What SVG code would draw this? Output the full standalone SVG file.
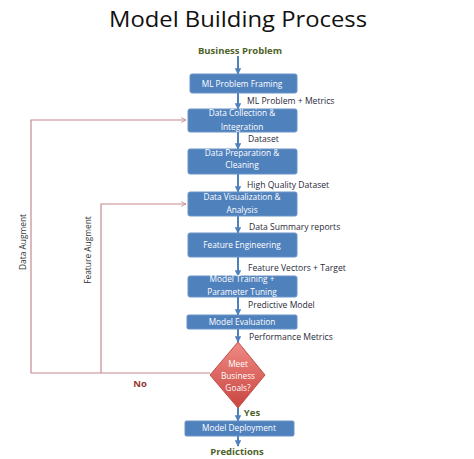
<svg xmlns="http://www.w3.org/2000/svg" width="474" height="459" viewBox="0 0 474 459">
<style>
.box{fill:#4f81bd;stroke:#6b93c6;stroke-width:1}
.bt{font-family:"Open Sans","Liberation Sans",sans-serif;font-size:8.3px;fill:#ffffff;text-anchor:middle}
.lbl{font-family:"Open Sans","Liberation Sans",sans-serif;font-size:8.6px;fill:#2a2a3a}
.grn{font-family:"Open Sans","Liberation Sans",sans-serif;font-size:9.5px;font-weight:bold;fill:#4f6228;text-anchor:middle}
.flow{stroke:#4f81bd;stroke-width:2;fill:none;marker-end:url(#ab)}
.loop{stroke:#c58a92;stroke-width:1.2;fill:none}
.side{font-family:"Open Sans","Liberation Sans",sans-serif;font-size:8.4px;fill:#333333;text-anchor:middle}
</style>
<defs>
<marker id="ab" viewBox="0 0 10 10" refX="9" refY="5" markerWidth="3.2" markerHeight="3.2" orient="auto"><path d="M0,0 L10,5 L0,10 z" fill="#4f81bd"/></marker>
<marker id="ap" viewBox="0 0 10 10" refX="9" refY="5" markerWidth="6" markerHeight="6" orient="auto" markerUnits="userSpaceOnUse"><path d="M1,1 L9,5 L1,9" fill="none" stroke="#c58a92" stroke-width="1.4"/></marker>
<linearGradient id="dg" x1="0" y1="0" x2="0" y2="1"><stop offset="0" stop-color="#f08a84"/><stop offset="1" stop-color="#c9453f"/></linearGradient>
</defs>
<rect width="474" height="459" fill="#ffffff"/>
<text x="238" y="27" font-family="Open Sans,Liberation Sans,sans-serif" font-size="22" fill="#111" text-anchor="middle" textLength="258" lengthAdjust="spacingAndGlyphs">Model Building Process</text>

<g id="connectors">
<line class="flow" x1="238" y1="56" x2="238" y2="74"/>
<line class="flow" x1="238" y1="93" x2="238" y2="109"/>
<line class="flow" x1="238" y1="132" x2="238" y2="149"/>
<line class="flow" x1="238" y1="174" x2="238" y2="192"/>
<line class="flow" x1="238" y1="216" x2="238" y2="233"/>
<line class="flow" x1="238" y1="257" x2="238" y2="276"/>
<line class="flow" x1="238" y1="297" x2="238" y2="315"/>
<line class="flow" x1="238" y1="329" x2="238" y2="342"/>
<line class="flow" x1="238" y1="408" x2="238" y2="421"/>
<line class="flow" x1="238" y1="436" x2="238" y2="446"/>
<polyline class="loop" points="210,373 31,373 31,120 186,120" marker-end="url(#ap)"/>
<polyline class="loop" points="101,373 101,204 186,204" marker-end="url(#ap)"/>
<text class="lbl" x="247" y="104">ML Problem + Metrics</text>
<text class="lbl" x="248" y="142">Dataset</text>
<text class="lbl" x="247" y="188">High Quality Dataset</text>
<text class="lbl" x="249" y="230">Data Summary reports</text>
<text class="lbl" x="248" y="271">Feature Vectors + Target</text>
<text class="lbl" x="248" y="308">Predictive Model</text>
<text class="lbl" x="249" y="340">Performance Metrics</text>
<text class="grn" x="252" y="416">Yes</text>
<text x="140" y="387" font-family="Open Sans,Liberation Sans,sans-serif" font-size="9.5" font-weight="bold" fill="#953735" text-anchor="middle">No</text>
<text class="side" transform="translate(26,242) rotate(-90)">Data Augment</text>
<text class="side" transform="translate(91,250) rotate(-90)">Feature Augment</text>
</g>

<g id="business-problem"><text class="grn" x="240" y="54">Business Problem</text></g>
<g id="ml-framing"><rect class="box" x="190" y="74" width="107" height="19" rx="2"/><text class="bt" x="242" y="87">ML Problem  Framing</text></g>
<g id="data-collection"><rect class="box" x="188" y="109" width="109" height="23" rx="2"/><text class="bt" x="242" y="116">Data Collection &amp;</text><text class="bt" x="242" y="130">Integration</text></g>
<g id="data-preparation"><rect class="box" x="188" y="149" width="109" height="25" rx="2"/><text class="bt" x="242" y="156">Data Preparation &amp;</text><text class="bt" x="242" y="168">Cleaning</text></g>
<g id="data-visualization"><rect class="box" x="188" y="192" width="109" height="24" rx="2"/><text class="bt" x="242" y="200">Data Visualization  &amp;</text><text class="bt" x="242" y="213">Analysis</text></g>
<g id="feature-engineering"><rect class="box" x="188" y="233" width="109" height="24" rx="2"/><text class="bt" x="242" y="248">Feature Engineering</text></g>
<g id="model-training"><rect class="box" x="188" y="276" width="109" height="21" rx="2"/><text class="bt" x="242" y="282">Model Training +</text><text class="bt" x="242" y="295">Parameter Tuning</text></g>
<g id="model-evaluation"><rect class="box" x="187" y="315" width="110" height="14" rx="1.5"/><text class="bt" x="242" y="325">Model Evaluation</text></g>
<g id="decision"><polygon points="238,342 265,375 238,408 210,375" fill="url(#dg)" stroke="#c0504d" stroke-width="1"/><text class="bt" x="238" y="367">Meet</text><text class="bt" x="238" y="379">Business</text><text class="bt" x="238" y="391">Goals?</text></g>
<g id="model-deployment"><rect class="box" x="185" y="421" width="109" height="15" rx="1.5"/><text class="bt" x="239" y="431">Model Deployment</text></g>
<g id="predictions"><text class="grn" x="237" y="455">Predictions</text></g>
</svg>
